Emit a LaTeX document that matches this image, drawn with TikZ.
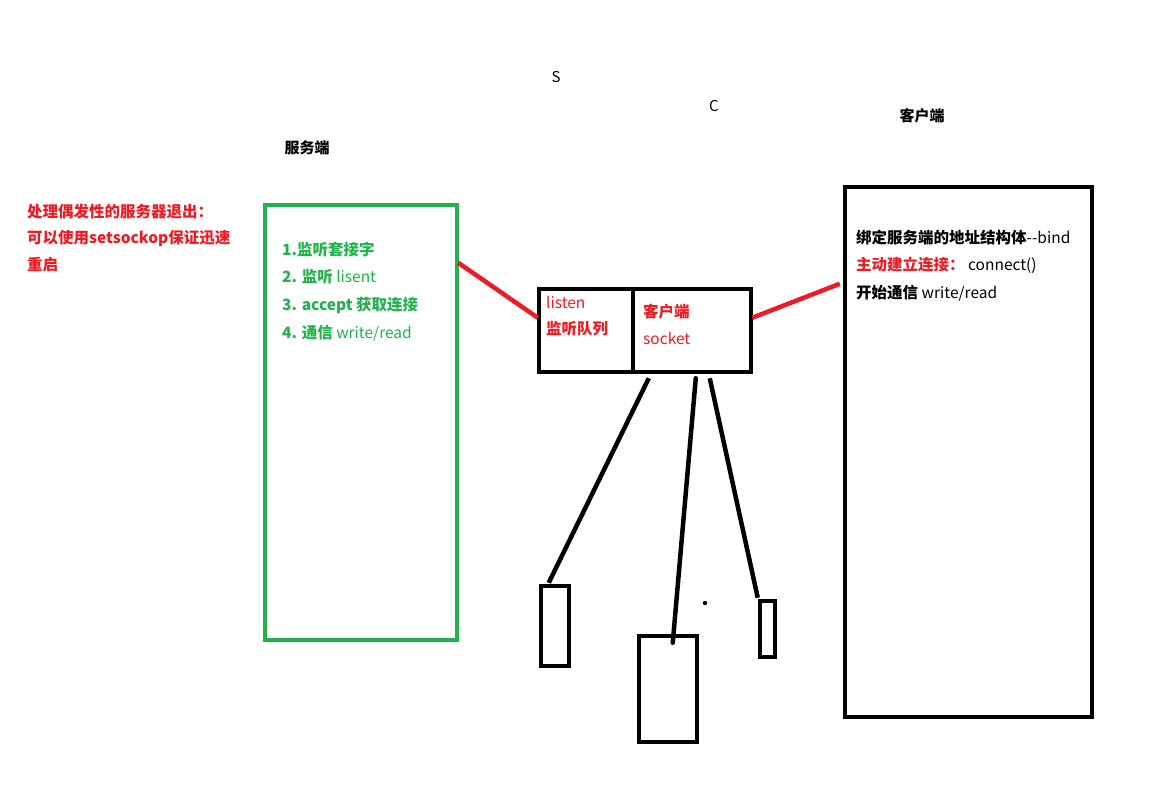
\documentclass[tikz,border=0pt]{standalone}
\usepackage{fontspec}
\setmainfont{Noto Sans CJK SC}
\usetikzlibrary{calc}
\definecolor{myred}{RGB}{237,28,36}
\definecolor{mygreen}{RGB}{34,177,76}
\begin{document}
\begin{tikzpicture}[x=1pt,y=-1pt,
  gbox/.style={draw=mygreen,line width=4.5pt,inner sep=0pt},
  kbox/.style={draw,line width=4.5pt,inner sep=0pt},
  wire/.style={line width=4.5pt},
  rwire/.style={line width=4.5pt,draw=myred},
  txt/.style={anchor=west,inner sep=0pt,font=\fontsize{15.5}{18}\selectfont},
  lbl/.style={inner sep=0pt,font=\fontsize{15}{18}\selectfont}
]
\useasboundingbox (0,0) rectangle (1153,795);
% boxes
\node[gbox,minimum width=192pt,minimum height=435pt] (green) at (361,422.5) {};
\node[kbox,minimum width=212pt,minimum height=83pt] (mid) at (645,330.5) {};
\draw[wire] ($(mid.north west)+(96,0)$) coordinate (dt) -- ($(mid.south west)+(96,0)$) coordinate (db);
\node[kbox,minimum width=247pt,minimum height=530pt] (client) at (968.5,452) {};
\node[kbox,minimum width=28pt,minimum height=80pt] (b1) at (555,626) {};
\node[kbox,minimum width=58pt,minimum height=106pt] (b2) at (668,689) {};
\node[kbox,minimum width=15pt,minimum height=56pt] (b3) at (767.5,629) {};
% connectors
\coordinate (m1) at ($(mid.south west)+(112,4)$);
\coordinate (m2) at ($(mid.south west)+(159,4)$);
\coordinate (m3) at ($(mid.south west)+(173,4)$);
\draw[wire] (m1) -- ($(b1.north west)+(10,-1)$) coordinate (e1);
\draw[wire,line cap=round] (m2) -- ($(b2.north west)+(36,9)$) coordinate (e2);
\draw[wire] (m3) -- ($(b3.north west)+(0,-1)$) coordinate (e3);
\draw[rwire] ($(green.north east)+(-1,60)$) coordinate (g1) -- ($(mid.north west)+(1,31)$) coordinate (g2);
\draw[rwire] ($(mid.north east)+(-1,31)$) coordinate (c1) -- ($(client.north west)+(-3,99)$) coordinate (c2);
\fill (705,603) circle (2.2pt);
% labels
\node[lbl] (s) at (556,77) {S};
\node[lbl] (c) at (714,106) {C};
\node[lbl,font=\fontsize{15}{18}\selectfont\bfseries] (kh) at (922,116) {客户端};
\node[lbl,font=\fontsize{15}{18}\selectfont\bfseries] (fw) at (307,148) {服务端};
% left red text
\node[txt,text=myred,font=\fontsize{15.5}{18}\selectfont\bfseries] (r1) at (27,212) {处理偶发性的服务器退出：};
\node[txt,text=myred,font=\fontsize{15.5}{18}\selectfont\bfseries] (r2) at (27,238) {可以使用setsockop保证迅速};
\node[txt,text=myred,font=\fontsize{15.5}{18}\selectfont\bfseries] (r3) at (27,265) {重启};
% green text
\node[txt,text=mygreen] (t1) at (282,250) {\bfseries 1.监听套接字};
\node[txt,text=mygreen] (t2) at (282,277) {\bfseries 2. 监听\mdseries\ lisent};
\node[txt,text=mygreen] (t3) at (282,305) {\bfseries 3. accept 获取连接};
\node[txt,text=mygreen] (t4) at (282,333) {\bfseries 4. 通信\mdseries\ write/read};
% middle text
\node[txt,text=myred] (l1) at (546,302) {listen};
\node[txt,text=myred] (l2) at (546,329) {\bfseries 监听队列};
\node[txt,text=myred] (l3) at (643,312) {\bfseries 客户端};
\node[txt,text=myred] (l4) at (643,338) {socket};
% client text
\node[txt] (k1) at (856,238) {\bfseries 绑定服务端的地址结构体\mdseries -{}-bind};
\node[txt] (k2) at (856,265) {\textcolor{myred}{\bfseries 主动建立连接：}\ connect()};
\node[txt] (k3) at (856,293) {\bfseries 开始通信\mdseries\ write/read};
\end{tikzpicture}
\end{document}
